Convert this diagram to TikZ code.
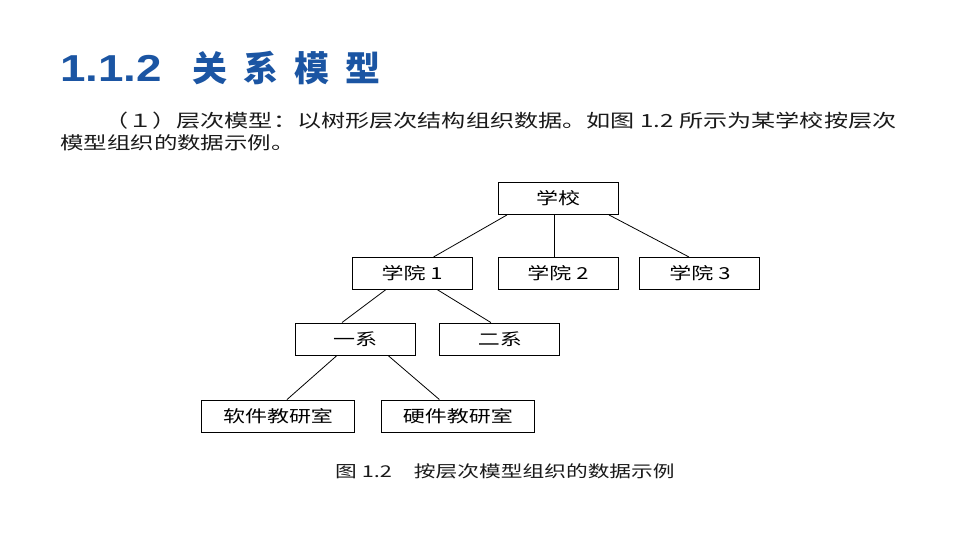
\documentclass[tikz,border=0pt]{standalone}
\usepackage{fontspec}
\usetikzlibrary{positioning,calc}
\newfontfamily\cjk[FakeStretch=1.333]{Noto Sans CJK SC}
\newfontfamily\titlecjk{Noto Sans CJK SC}
\newfontfamily\titlenum[FakeStretch=1.22]{Liberation Sans}
\definecolor{TitleBlue}{HTML}{1B55A3}
\definecolor{Ink}{HTML}{1A1A1A}

\begin{document}
\begin{tikzpicture}[x=1pt,y=-1pt,
  box/.style={draw=black,line width=0.9pt,minimum width=120pt,minimum height=32pt,inner sep=0pt,
    font=\cjk\fontsize{16.5}{18}\selectfont},
  widebox/.style={box,minimum width=153pt},
  link/.style={line width=0.8pt},
  titletext/.style={anchor=west,inner sep=0pt},
  bodytext/.style={anchor=base west,inner sep=0pt,text=Ink,font=\cjk\fontsize{17.6}{22}\selectfont}]
  \useasboundingbox[fill=white] (0,0) rectangle (960,540);

  % heading
  \node[titletext,text=TitleBlue] (title) at (60,68.5)
    {{\titlenum\bfseries\fontsize{37.5}{40}\selectfont 1.1.2}\hspace{31pt}{\titlecjk\bfseries\fontsize{35}{40}\selectfont 关\hspace{16pt}系\hspace{16pt}模\hspace{16pt}型}};

  \node[bodytext,font=\cjk\fontsize{18.1}{22}\selectfont] (intro-a) at (104,127.5) {（１）层次模型：以树形层次结构组织数据。如图 1.2 所示为某学校按层次};
  \node[bodytext] (intro-b) at (60,149.5) {模型组织的数据示例。};

  % tree
  \node[box] (school) at (558,198.5) {学校};
  \node[box,below=42pt of school] (col2) {学院 2};
  \node[box,left=25pt of col2] (col1) {学院 1};
  \node[box,right=21pt of col2] (col3) {学院 3};
  \node[box] (dep1) at (355,339) {一系};
  \node[box,right=24pt of dep1] (dep2) {二系};
  \node[widebox] (lab1) at (278,416) {软件教研室};
  \node[widebox,right=26pt of lab1] (lab2) {硬件教研室};

  \draw[link] ([xshift=-51pt]school.south) -- ([xshift=21.5pt]col1.north);
  \draw[link] ([xshift=-4pt]school.south) -- ([xshift=-4pt]col2.north);
  \draw[link] ([xshift=51pt]school.south) -- ([xshift=-11pt]col3.north);
  \draw[link] ([xshift=-26.5pt]col1.south) -- ([xshift=-13pt]dep1.north);
  \draw[link] ([xshift=25.5pt]col1.south) -- ([xshift=-9pt]dep2.north);
  \draw[link] ([xshift=-18pt]dep1.south) -- ([xshift=9pt]lab1.north);
  \draw[link] ([xshift=33pt]dep1.south) -- ([xshift=-18.5pt]lab2.north);

  \node[bodytext,font=\cjk\fontsize{16.3}{20}\selectfont] (caption) at (335,477) {图 1.2\hspace{22pt}按层次模型组织的数据示例};
\end{tikzpicture}
\end{document}
